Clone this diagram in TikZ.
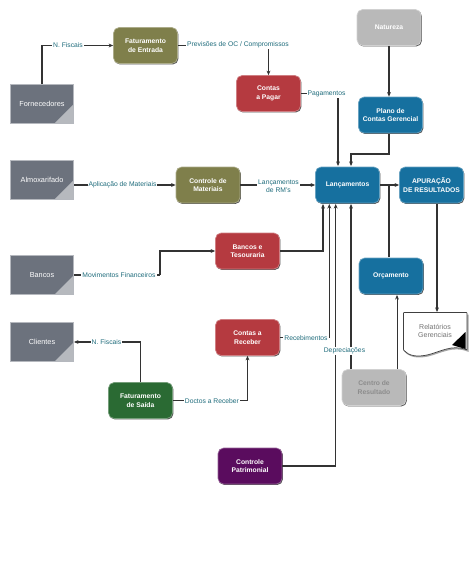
\documentclass[tikz,border=0pt]{standalone}
\usepackage{fontspec}
\setmainfont{Liberation Sans}
\usetikzlibrary{arrows.meta, shadows}

\definecolor{olivebox}{HTML}{7F7F4B}
\definecolor{redbox}{HTML}{B53A40}
\definecolor{bluebox}{HTML}{16709F}
\definecolor{greybox}{HTML}{B9B9B9}
\definecolor{greenbox}{HTML}{2A6A33}
\definecolor{purplebox}{HTML}{5A0C5E}
\definecolor{slatebox}{HTML}{6C727D}
\definecolor{tealtext}{HTML}{1F6C7C}

\begin{document}
\begin{tikzpicture}[
  x=0.05cm, y=-0.05cm,
  proc/.style={rectangle, draw=#1!65!white, fill=#1, rounded corners=8pt, line width=1pt,
               text=white, align=center, minimum width=3.2cm, minimum height=1.8cm,
               font=\fontsize{9.6}{12}\selectfont\bfseries, inner sep=1pt,
               drop shadow={shadow xshift=1.2pt, shadow yshift=-1.4pt, fill=black!75, opacity=0.9}},
  ext/.style={rectangle, draw=slatebox!50!white, fill=slatebox, line width=1.2pt,
              text=white, align=center, minimum width=3.15cm, minimum height=1.95cm,
              font=\fontsize{10.4}{12}\selectfont, inner sep=1pt,
              drop shadow={shadow xshift=1.2pt, shadow yshift=-1.4pt, fill=black!75, opacity=0.9},
              path picture={\fill[slatebox!50!white] (path picture bounding box.south east)
                -- ++(-19,0) -- ++(19,-19) -- cycle;}},
  doc/.style={rectangle, align=center, minimum width=3.2cm, minimum height=1.6cm,
              font=\fontsize{10}{12}\selectfont, text=black!55, inner sep=1pt},
  arr/.style={-{Stealth[length=6.5pt, width=5.5pt]}, line width=1.6pt, draw=black!80},
  lin/.style={line width=1.6pt, draw=black!80},
  lbl/.style={fill=white, text=tealtext, font=\fontsize{9.6}{11.5}\selectfont, align=center, inner sep=1.5pt}
]
\useasboundingbox (0,0) rectangle (474,564);

% ---- Externos ----
\node[ext] (forn) at (42,104)  {Fornecedores};
\node[ext] (almo) at (42,180)  {Almoxarifado};
\node[ext] (banc) at (42,275)  {Bancos};
\node[ext] (clie) at (42,342)  {Clientes};

% ---- Processos ----
\node[proc=olivebox]  (fatent) at (145.5,45.5) {Faturamento\\de Entrada};
\node[proc=olivebox]  (ctrmat) at (208,185)    {Controle de\\Materiais};
\node[proc=redbox]    (pagar)  at (268.5,93.5) {Contas\\a Pagar};
\node[proc=redbox]    (tesou)  at (247.5,251)  {Bancos e\\Tesouraria};
\node[proc=redbox]    (receb)  at (247.5,337.5){Contas a\\Receber};
\node[proc=greenbox]  (fatsai) at (140.5,400.5){Faturamento\\de Saída};
\node[proc=purplebox] (patri)  at (250,466)    {Controle\\Patrimonial};
\node[proc=greybox]   (natur)  at (389,27.5)   {Natureza};
\node[proc=greybox, text=black!45] (centro) at (374,387.5) {Centro de\\Resultado};
\node[proc=bluebox]   (plano)  at (390.5,115)  {Plano de\\Contas Gerencial};
\node[proc=bluebox]   (lanc)   at (347.5,185)  {Lançamentos};
\node[proc=bluebox]   (apur)   at (431.5,185)  {APURAÇÃO\\DE RESULTADOS};
\node[proc=bluebox]   (orca)   at (391,276)    {Orçamento};

% ---- Relatorios ----
\draw[line width=2.4pt, draw=black!35, xshift=1pt, yshift=-1pt]
  (467,314) -- (467,350)
  .. controls (452,344) and (440,352) .. (427,355)
  .. controls (417,357) and (409,356) .. (404,350);
\draw[line width=1pt, draw=black!75, fill=white, rounded corners=1pt]
  (403.5,312.5) -- (467,312.5) -- (467,350)
  .. controls (452,344) and (440,352) .. (427,355)
  .. controls (417,357) and (409,356) .. (403.5,350) -- cycle;
\fill[black] (465.5,332) -- (465.5,349) -- (452,345) -- cycle;
\node[doc] (relat) at (435,331) {Relatórios\\Gerenciais};

% ---- Pontos de chegada ----
\coordinate (lanc-tesou) at (323,204);
\coordinate (lanc-receb) at (329.3,204);
\coordinate (lanc-patri) at (335.7,204);
\coordinate (lanc-centro) at (351,204);
\coordinate (lanc-pag) at (338,166);
\coordinate (lanc-plano) at (351,166);
\coordinate (plano-out) at (389,134);
\coordinate (junta) at (389,185);
\coordinate (orca-top) at (389,257);
\coordinate (orca-bot) at (397,295);
\coordinate (centro-top) at (397,369);
\coordinate (centro-esq) at (351,369);
\coordinate (relat-top) at (437,312);
\coordinate (apur-bot) at (437,204);
\coordinate (almo-out) at (74,185);
\coordinate (movi) at (160,275);

% ---- Conexoes ----
\draw[arr] (forn.north) |- (fatent.west);
\draw[arr] (fatent.east) -| (pagar.north);
\draw[arr] (pagar.east) -| (lanc-pag);
\draw[arr] (natur.south) -- (natur.south |- plano.north);
\draw[arr] (plano-out) |- (351,154) -- (lanc-plano);
\draw[arr] (lanc.east) -- (apur.west);
\draw[lin] (orca-top) -- (junta);
\draw[arr] (apur-bot) -- (relat-top);
\draw[arr, line width=1pt] (centro-top) -- (orca-bot);
\draw[arr] (centro-esq) -- (lanc-centro);
\draw[arr] (patri.east) -| (lanc-patri);
\draw[arr] (receb.east) -| (lanc-receb);
\draw[arr] (tesou.east) -| (lanc-tesou);
\draw[arr] (ctrmat.east) -- (lanc.west);
\draw[arr] (almo-out) -- (ctrmat.west);
\draw[lin] (banc.east) -- (movi);
\draw[arr] (movi) |- (tesou.west);
\draw[arr] (fatsai.north) |- (clie.east);
\draw[arr] (fatsai.east) -| (receb.south);

% ---- Rotulos ----
\node[lbl] (l-nf1)  at (68,45)   {N. Fiscais};
\node[lbl] (l-prev) at (238,45)  {Previsões de OC / Compromissos};
\node[lbl] (l-pag)  at (326.5,94){Pagamentos};
\node[lbl] (l-rm)   at (278.5,186) {Lançamentos\\de RM's};
\node[lbl] (l-apl)  at (122.5,185) {Aplicação de Materiais};
\node[lbl] (l-mov)  at (119,275) {Movimentos Financeiros};
\node[lbl] (l-nf2)  at (106.5,342) {N. Fiscais};
\node[lbl] (l-doc)  at (212,401) {Doctos a Receber};
\node[lbl] (l-rec)  at (306,338) {Recebimentos};
\node[lbl] (l-dep)  at (344.5,351) {Depreciações};

\end{tikzpicture}
\end{document}
